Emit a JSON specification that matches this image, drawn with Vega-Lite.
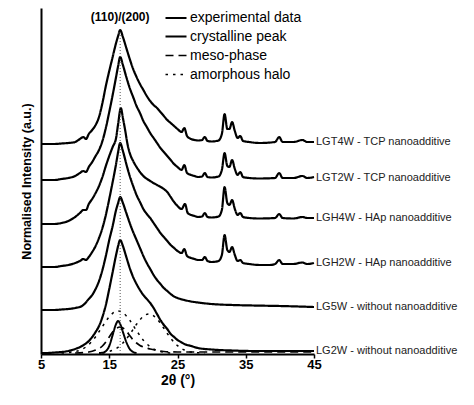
{
  "$schema": "https://vega.github.io/schema/vega-lite/v6.json",
  "width": 273,
  "height": 346,
  "autosize": {"type": "none"},
  "padding": {"left": 41, "top": 8, "right": 160, "bottom": 51},
  "background": "white",
  "config": {"view": {"stroke": null}, "font": "Liberation Sans", "axis": {"labelOverlap": false}, "axisX": {"labelOverlap": false}, "axisQuantitative": {"labelOverlap": false}},
  "datasets": {
    "labels": [
      {"label": "LGT4W - TCP nanoadditive", "y": 212},
      {"label": "LGT2W - TCP nanoadditive", "y": 176},
      {"label": "LGH4W - HAp nanoadditive", "y": 136},
      {"label": "LGH2W - HAp nanoadditive", "y": 91},
      {"label": "LG5W - without nanoadditive", "y": 47},
      {"label": "LG2W - without nanoadditive", "y": 3}
    ],
    "traces": [
      {"t":"LGT4W","x":5,"y":210},{"t":"LGT4W","x":7,"y":210},{"t":"LGT4W","x":8,"y":210.5},{"t":"LGT4W","x":9,"y":211},{"t":"LGT4W","x":10,"y":212},{"t":"LGT4W","x":10.7,"y":215},{"t":"LGT4W","x":11.2,"y":217},{"t":"LGT4W","x":11.6,"y":215},{"t":"LGT4W","x":12,"y":220},{"t":"LGT4W","x":12.5,"y":224},{"t":"LGT4W","x":13,"y":229},{"t":"LGT4W","x":13.5,"y":237},{"t":"LGT4W","x":14,"y":251},{"t":"LGT4W","x":14.5,"y":268},{"t":"LGT4W","x":15,"y":283},{"t":"LGT4W","x":15.5,"y":297},{"t":"LGT4W","x":16,"y":311},{"t":"LGT4W","x":16.3,"y":318},{"t":"LGT4W","x":16.6,"y":324},{"t":"LGT4W","x":17,"y":317},{"t":"LGT4W","x":17.5,"y":306},{"t":"LGT4W","x":18,"y":295},{"t":"LGT4W","x":18.5,"y":285},{"t":"LGT4W","x":19,"y":277},{"t":"LGT4W","x":19.5,"y":270},{"t":"LGT4W","x":20,"y":264},{"t":"LGT4W","x":20.5,"y":258},{"t":"LGT4W","x":21,"y":253},{"t":"LGT4W","x":21.5,"y":249},{"t":"LGT4W","x":22,"y":246},{"t":"LGT4W","x":22.5,"y":242},{"t":"LGT4W","x":23,"y":238},{"t":"LGT4W","x":23.5,"y":234},{"t":"LGT4W","x":24,"y":231},{"t":"LGT4W","x":24.5,"y":228},{"t":"LGT4W","x":25,"y":225},{"t":"LGT4W","x":25.6,"y":222},{"t":"LGT4W","x":26,"y":226},{"t":"LGT4W","x":26.4,"y":218},{"t":"LGT4W","x":27,"y":215},{"t":"LGT4W","x":27.5,"y":214},{"t":"LGT4W","x":28,"y":213.5},{"t":"LGT4W","x":28.6,"y":214},{"t":"LGT4W","x":29,"y":217},{"t":"LGT4W","x":29.4,"y":213},{"t":"LGT4W","x":30,"y":212.5},{"t":"LGT4W","x":31,"y":213.5},{"t":"LGT4W","x":31.5,"y":220},{"t":"LGT4W","x":31.9,"y":240},{"t":"LGT4W","x":32.3,"y":225},{"t":"LGT4W","x":32.6,"y":225},{"t":"LGT4W","x":33,"y":232},{"t":"LGT4W","x":33.4,"y":223},{"t":"LGT4W","x":33.8,"y":216},{"t":"LGT4W","x":34.2,"y":218},{"t":"LGT4W","x":34.6,"y":213},{"t":"LGT4W","x":35.5,"y":212},{"t":"LGT4W","x":37,"y":211},{"t":"LGT4W","x":39.3,"y":212},{"t":"LGT4W","x":39.9,"y":217},{"t":"LGT4W","x":40.4,"y":212},{"t":"LGT4W","x":42,"y":212},{"t":"LGT4W","x":43.3,"y":214},{"t":"LGT4W","x":44,"y":212},{"t":"LGT4W","x":45,"y":212},

      {"t":"LGT2W","x":5,"y":174},{"t":"LGT2W","x":7,"y":174},{"t":"LGT2W","x":8,"y":175},{"t":"LGT2W","x":9,"y":176},{"t":"LGT2W","x":10,"y":178},{"t":"LGT2W","x":10.7,"y":181},{"t":"LGT2W","x":11.2,"y":183},{"t":"LGT2W","x":11.6,"y":182},{"t":"LGT2W","x":12,"y":187},{"t":"LGT2W","x":12.5,"y":192},{"t":"LGT2W","x":13,"y":198},{"t":"LGT2W","x":13.5,"y":204},{"t":"LGT2W","x":14,"y":213},{"t":"LGT2W","x":14.5,"y":226},{"t":"LGT2W","x":15,"y":242},{"t":"LGT2W","x":15.5,"y":259},{"t":"LGT2W","x":16,"y":277},{"t":"LGT2W","x":16.3,"y":288},{"t":"LGT2W","x":16.6,"y":297},{"t":"LGT2W","x":17,"y":289},{"t":"LGT2W","x":17.5,"y":277},{"t":"LGT2W","x":18,"y":266},{"t":"LGT2W","x":18.5,"y":257},{"t":"LGT2W","x":19,"y":248},{"t":"LGT2W","x":19.5,"y":241},{"t":"LGT2W","x":20,"y":233},{"t":"LGT2W","x":20.5,"y":227},{"t":"LGT2W","x":21,"y":221},{"t":"LGT2W","x":21.5,"y":216},{"t":"LGT2W","x":22,"y":211},{"t":"LGT2W","x":22.5,"y":206},{"t":"LGT2W","x":23,"y":202},{"t":"LGT2W","x":23.5,"y":198},{"t":"LGT2W","x":24,"y":194},{"t":"LGT2W","x":24.5,"y":190},{"t":"LGT2W","x":25,"y":187},{"t":"LGT2W","x":25.6,"y":184},{"t":"LGT2W","x":26,"y":189},{"t":"LGT2W","x":26.4,"y":181},{"t":"LGT2W","x":27,"y":179},{"t":"LGT2W","x":27.5,"y":178},{"t":"LGT2W","x":28,"y":177},{"t":"LGT2W","x":28.6,"y":177.5},{"t":"LGT2W","x":29,"y":181},{"t":"LGT2W","x":29.4,"y":177},{"t":"LGT2W","x":30,"y":176.5},{"t":"LGT2W","x":31,"y":177.5},{"t":"LGT2W","x":31.5,"y":184},{"t":"LGT2W","x":31.9,"y":201},{"t":"LGT2W","x":32.3,"y":188},{"t":"LGT2W","x":32.6,"y":187},{"t":"LGT2W","x":33,"y":194},{"t":"LGT2W","x":33.4,"y":185},{"t":"LGT2W","x":33.8,"y":179},{"t":"LGT2W","x":34.2,"y":182},{"t":"LGT2W","x":34.6,"y":177},{"t":"LGT2W","x":35.5,"y":176},{"t":"LGT2W","x":37,"y":175.5},{"t":"LGT2W","x":39.3,"y":176},{"t":"LGT2W","x":39.9,"y":181},{"t":"LGT2W","x":40.4,"y":176},{"t":"LGT2W","x":42,"y":176},{"t":"LGT2W","x":43.3,"y":178},{"t":"LGT2W","x":44,"y":176},{"t":"LGT2W","x":45,"y":177},

      {"t":"LGH4W","x":5,"y":130},{"t":"LGH4W","x":7,"y":130},{"t":"LGH4W","x":8,"y":131},{"t":"LGH4W","x":9,"y":133},{"t":"LGH4W","x":10,"y":137},{"t":"LGH4W","x":10.7,"y":141},{"t":"LGH4W","x":11.2,"y":144},{"t":"LGH4W","x":11.6,"y":144},{"t":"LGH4W","x":12,"y":150},{"t":"LGH4W","x":12.5,"y":155},{"t":"LGH4W","x":13,"y":161},{"t":"LGH4W","x":13.5,"y":168},{"t":"LGH4W","x":14,"y":177},{"t":"LGH4W","x":14.5,"y":188},{"t":"LGH4W","x":15,"y":198},{"t":"LGH4W","x":15.5,"y":207},{"t":"LGH4W","x":16,"y":216},{"t":"LGH4W","x":16.3,"y":230},{"t":"LGH4W","x":16.7,"y":246},{"t":"LGH4W","x":17,"y":236},{"t":"LGH4W","x":17.3,"y":225},{"t":"LGH4W","x":17.7,"y":209},{"t":"LGH4W","x":18,"y":201},{"t":"LGH4W","x":18.5,"y":193},{"t":"LGH4W","x":19,"y":187},{"t":"LGH4W","x":19.5,"y":182},{"t":"LGH4W","x":20,"y":178},{"t":"LGH4W","x":21,"y":173},{"t":"LGH4W","x":22,"y":169},{"t":"LGH4W","x":23,"y":165},{"t":"LGH4W","x":23.5,"y":162},{"t":"LGH4W","x":24,"y":157},{"t":"LGH4W","x":24.5,"y":152},{"t":"LGH4W","x":25,"y":148},{"t":"LGH4W","x":25.6,"y":145},{"t":"LGH4W","x":26.1,"y":150},{"t":"LGH4W","x":26.5,"y":141},{"t":"LGH4W","x":27,"y":139},{"t":"LGH4W","x":27.5,"y":138},{"t":"LGH4W","x":28,"y":137},{"t":"LGH4W","x":28.6,"y":137.5},{"t":"LGH4W","x":29,"y":141},{"t":"LGH4W","x":29.4,"y":137},{"t":"LGH4W","x":30,"y":136.5},{"t":"LGH4W","x":31,"y":137.5},{"t":"LGH4W","x":31.5,"y":144},{"t":"LGH4W","x":31.9,"y":167},{"t":"LGH4W","x":32.3,"y":151},{"t":"LGH4W","x":32.6,"y":149},{"t":"LGH4W","x":33,"y":154},{"t":"LGH4W","x":33.4,"y":145},{"t":"LGH4W","x":33.8,"y":139},{"t":"LGH4W","x":34.2,"y":141},{"t":"LGH4W","x":34.6,"y":137},{"t":"LGH4W","x":35.5,"y":136},{"t":"LGH4W","x":37,"y":135.5},{"t":"LGH4W","x":39.3,"y":136},{"t":"LGH4W","x":39.9,"y":140},{"t":"LGH4W","x":40.4,"y":136},{"t":"LGH4W","x":42,"y":135.5},{"t":"LGH4W","x":43.3,"y":137},{"t":"LGH4W","x":44,"y":136},{"t":"LGH4W","x":45,"y":136},

      {"t":"LGH2W","x":5,"y":87},{"t":"LGH2W","x":7,"y":87},{"t":"LGH2W","x":8,"y":88},{"t":"LGH2W","x":9,"y":89},{"t":"LGH2W","x":10,"y":91},{"t":"LGH2W","x":10.7,"y":93},{"t":"LGH2W","x":11.2,"y":95},{"t":"LGH2W","x":11.6,"y":94},{"t":"LGH2W","x":12,"y":97},{"t":"LGH2W","x":12.5,"y":102},{"t":"LGH2W","x":13,"y":108},{"t":"LGH2W","x":13.5,"y":116},{"t":"LGH2W","x":14,"y":126},{"t":"LGH2W","x":14.5,"y":139},{"t":"LGH2W","x":15,"y":155},{"t":"LGH2W","x":15.5,"y":172},{"t":"LGH2W","x":16,"y":190},{"t":"LGH2W","x":16.3,"y":202},{"t":"LGH2W","x":16.6,"y":211},{"t":"LGH2W","x":17,"y":203},{"t":"LGH2W","x":17.5,"y":190},{"t":"LGH2W","x":18,"y":178},{"t":"LGH2W","x":18.5,"y":168},{"t":"LGH2W","x":19,"y":159},{"t":"LGH2W","x":19.5,"y":152},{"t":"LGH2W","x":20,"y":145},{"t":"LGH2W","x":20.5,"y":140},{"t":"LGH2W","x":21,"y":136},{"t":"LGH2W","x":21.5,"y":131},{"t":"LGH2W","x":22,"y":126},{"t":"LGH2W","x":22.5,"y":121},{"t":"LGH2W","x":23,"y":117},{"t":"LGH2W","x":23.5,"y":113},{"t":"LGH2W","x":24,"y":109},{"t":"LGH2W","x":24.5,"y":106},{"t":"LGH2W","x":25,"y":103},{"t":"LGH2W","x":25.6,"y":101},{"t":"LGH2W","x":26,"y":105},{"t":"LGH2W","x":26.4,"y":98},{"t":"LGH2W","x":27,"y":96},{"t":"LGH2W","x":27.5,"y":95},{"t":"LGH2W","x":28,"y":94},{"t":"LGH2W","x":28.6,"y":94},{"t":"LGH2W","x":29,"y":97},{"t":"LGH2W","x":29.4,"y":93},{"t":"LGH2W","x":30,"y":92},{"t":"LGH2W","x":31,"y":93},{"t":"LGH2W","x":31.5,"y":99},{"t":"LGH2W","x":31.9,"y":119},{"t":"LGH2W","x":32.3,"y":104},{"t":"LGH2W","x":32.6,"y":102},{"t":"LGH2W","x":33,"y":107},{"t":"LGH2W","x":33.4,"y":99},{"t":"LGH2W","x":33.8,"y":93},{"t":"LGH2W","x":34.2,"y":94},{"t":"LGH2W","x":34.6,"y":91},{"t":"LGH2W","x":35.5,"y":90},{"t":"LGH2W","x":37,"y":89},{"t":"LGH2W","x":38.5,"y":89},{"t":"LGH2W","x":39.3,"y":90},{"t":"LGH2W","x":39.9,"y":94},{"t":"LGH2W","x":40.4,"y":90},{"t":"LGH2W","x":42,"y":90},{"t":"LGH2W","x":43.3,"y":91.5},{"t":"LGH2W","x":44,"y":90},{"t":"LGH2W","x":45,"y":91},

      {"t":"LG5W","x":5,"y":44},{"t":"LG5W","x":7,"y":44},{"t":"LG5W","x":8,"y":44.5},{"t":"LG5W","x":9,"y":45},{"t":"LG5W","x":10,"y":46},{"t":"LG5W","x":11,"y":48},{"t":"LG5W","x":12,"y":55},{"t":"LG5W","x":12.5,"y":59},{"t":"LG5W","x":13,"y":65},{"t":"LG5W","x":13.5,"y":73},{"t":"LG5W","x":14,"y":84},{"t":"LG5W","x":14.5,"y":98},{"t":"LG5W","x":15,"y":114},{"t":"LG5W","x":15.5,"y":128},{"t":"LG5W","x":16,"y":144},{"t":"LG5W","x":16.3,"y":151},{"t":"LG5W","x":16.6,"y":157},{"t":"LG5W","x":17,"y":151},{"t":"LG5W","x":17.5,"y":141},{"t":"LG5W","x":18,"y":131},{"t":"LG5W","x":18.5,"y":122},{"t":"LG5W","x":19,"y":114},{"t":"LG5W","x":19.5,"y":106},{"t":"LG5W","x":20,"y":98},{"t":"LG5W","x":20.5,"y":91},{"t":"LG5W","x":21,"y":85},{"t":"LG5W","x":21.5,"y":79},{"t":"LG5W","x":22,"y":74},{"t":"LG5W","x":22.5,"y":70},{"t":"LG5W","x":23,"y":66},{"t":"LG5W","x":23.5,"y":63},{"t":"LG5W","x":24,"y":60},{"t":"LG5W","x":24.5,"y":57.5},{"t":"LG5W","x":25,"y":56},{"t":"LG5W","x":26,"y":54},{"t":"LG5W","x":27,"y":52.5},{"t":"LG5W","x":28,"y":51.5},{"t":"LG5W","x":30,"y":50},{"t":"LG5W","x":33,"y":49},{"t":"LG5W","x":36,"y":48.5},{"t":"LG5W","x":40,"y":48},{"t":"LG5W","x":45,"y":47},

      {"t":"LG2W","x":5,"y":1},{"t":"LG2W","x":6,"y":1},{"t":"LG2W","x":7,"y":1.5},{"t":"LG2W","x":8,"y":2},{"t":"LG2W","x":9,"y":3},{"t":"LG2W","x":10,"y":5},{"t":"LG2W","x":11,"y":8},{"t":"LG2W","x":12,"y":13},{"t":"LG2W","x":12.5,"y":17},{"t":"LG2W","x":13,"y":22},{"t":"LG2W","x":13.5,"y":28},{"t":"LG2W","x":14,"y":37},{"t":"LG2W","x":14.5,"y":49},{"t":"LG2W","x":15,"y":65},{"t":"LG2W","x":15.5,"y":82},{"t":"LG2W","x":16,"y":99},{"t":"LG2W","x":16.3,"y":108},{"t":"LG2W","x":16.6,"y":114},{"t":"LG2W","x":17,"y":108},{"t":"LG2W","x":17.5,"y":97},{"t":"LG2W","x":18,"y":86},{"t":"LG2W","x":18.5,"y":77},{"t":"LG2W","x":19,"y":70},{"t":"LG2W","x":19.5,"y":64},{"t":"LG2W","x":20,"y":59},{"t":"LG2W","x":20.5,"y":55},{"t":"LG2W","x":21,"y":51},{"t":"LG2W","x":21.5,"y":46},{"t":"LG2W","x":22,"y":40},{"t":"LG2W","x":22.5,"y":34},{"t":"LG2W","x":23,"y":29},{"t":"LG2W","x":23.5,"y":25},{"t":"LG2W","x":24,"y":20},{"t":"LG2W","x":24.5,"y":17},{"t":"LG2W","x":25,"y":14},{"t":"LG2W","x":25.5,"y":12},{"t":"LG2W","x":26,"y":10},{"t":"LG2W","x":27,"y":8},{"t":"LG2W","x":28,"y":6},{"t":"LG2W","x":30,"y":4.5},{"t":"LG2W","x":33,"y":3.5},{"t":"LG2W","x":36,"y":3},{"t":"LG2W","x":40,"y":3},{"t":"LG2W","x":45,"y":3},

      {"t":"cp","x":13.5,"y":1},{"t":"cp","x":14,"y":1.3},{"t":"cp","x":14.5,"y":2.8},{"t":"cp","x":15,"y":8},{"t":"cp","x":15.5,"y":19},{"t":"cp","x":16,"y":30},{"t":"cp","x":16.3,"y":33},{"t":"cp","x":16.6,"y":30},{"t":"cp","x":17,"y":22},{"t":"cp","x":17.5,"y":12},{"t":"cp","x":18,"y":5},{"t":"cp","x":18.5,"y":2},{"t":"cp","x":19,"y":1},

      {"t":"mp","x":10,"y":1},{"t":"mp","x":12,"y":2},{"t":"mp","x":13,"y":4},{"t":"mp","x":14,"y":8},{"t":"mp","x":14.5,"y":12},{"t":"mp","x":15,"y":17},{"t":"mp","x":15.5,"y":22},{"t":"mp","x":16,"y":25.5},{"t":"mp","x":16.6,"y":27},{"t":"mp","x":17,"y":26},{"t":"mp","x":17.5,"y":23},{"t":"mp","x":18,"y":18.5},{"t":"mp","x":18.5,"y":14},{"t":"mp","x":19,"y":11},{"t":"mp","x":19.5,"y":8.5},{"t":"mp","x":20,"y":7},{"t":"mp","x":20.5,"y":6},{"t":"mp","x":21,"y":5},{"t":"mp","x":22,"y":3.5},{"t":"mp","x":23,"y":2.5},{"t":"mp","x":25,"y":2},{"t":"mp","x":30,"y":2},{"t":"mp","x":45,"y":2},

      {"t":"ah1","x":8,"y":1},{"t":"ah1","x":9,"y":1.4},{"t":"ah1","x":10,"y":2.3},{"t":"ah1","x":11,"y":4.7},{"t":"ah1","x":12,"y":9.4},{"t":"ah1","x":13,"y":17.3},{"t":"ah1","x":14,"y":27.5},{"t":"ah1","x":15,"y":37.3},{"t":"ah1","x":16,"y":42.7},{"t":"ah1","x":16.3,"y":43},{"t":"ah1","x":17,"y":41.3},{"t":"ah1","x":18,"y":33.7},{"t":"ah1","x":19,"y":23.3},{"t":"ah1","x":20,"y":13.8},{"t":"ah1","x":21,"y":7.2},{"t":"ah1","x":22,"y":3.5},{"t":"ah1","x":23,"y":1.8},{"t":"ah1","x":24,"y":1},

      {"t":"ah2","x":14,"y":1},{"t":"ah2","x":15,"y":2.6},{"t":"ah2","x":16,"y":5.4},{"t":"ah2","x":17,"y":11},{"t":"ah2","x":18,"y":19.6},{"t":"ah2","x":19,"y":29.7},{"t":"ah2","x":20,"y":37.7},{"t":"ah2","x":20.8,"y":40},{"t":"ah2","x":21,"y":39.9},{"t":"ah2","x":22,"y":35},{"t":"ah2","x":23,"y":25.7},{"t":"ah2","x":24,"y":15.8},{"t":"ah2","x":25,"y":8.4},{"t":"ah2","x":26,"y":4},{"t":"ah2","x":27,"y":2},{"t":"ah2","x":28,"y":1.3},{"t":"ah2","x":29,"y":1}
    ]
  },
  "layer": [
    {
      "data": {"name": "traces"},
      "transform": [
        {
          "lookup": "t",
          "from": {
            "data": {"values": [
              {"t": "LGT4W", "c": "experimental data"},
              {"t": "LGT2W", "c": "experimental data"},
              {"t": "LGH4W", "c": "experimental data"},
              {"t": "LGH2W", "c": "experimental data"},
              {"t": "LG5W", "c": "experimental data"},
              {"t": "LG2W", "c": "experimental data"},
              {"t": "cp", "c": "crystalline peak"},
              {"t": "mp", "c": "meso-phase"},
              {"t": "ah1", "c": "amorphous halo"},
              {"t": "ah2", "c": "amorphous halo"}
            ]},
            "key": "t",
            "fields": ["c"]
          }
        }
      ],
      "mark": {"type": "line", "color": "black", "interpolate": "monotone", "strokeJoin": "round"},
      "encoding": {
        "x": {
          "field": "x", "type": "quantitative",
          "scale": {"domain": [5, 45], "nice": false, "zero": false},
          "axis": {
            "title": "2θ (°)",
            "values": [5, 7.5, 10, 12.5, 15, 17.5, 20, 22.5, 25, 27.5, 30, 32.5, 35, 37.5, 40, 42.5, 45],
            "labelExpr": "(datum.value % 5 === 0) ? format(datum.value, 'd') : ''",
            "grid": false,
            "domainColor": "black", "domainWidth": 2,
            "tickColor": "black", "tickWidth": 1.5, "tickSize": 4,
            "labelFont": "Liberation Sans", "labelFontSize": 13, "labelFontWeight": "bold", "labelColor": "black",
            "labelPadding": 0, "labelFlush": false, "labelOverlap": false, "labelBound": false,
            "titleFont": "Liberation Sans", "titleFontSize": 14, "titleFontWeight": "bold", "titleColor": "black",
            "titlePadding": 2
          }
        },
        "y": {
          "field": "y", "type": "quantitative",
          "scale": {"domain": [0, 346], "nice": false},
          "axis": {
            "title": "Normalised Intensity (a.u.)",
            "ticks": false, "labels": false, "grid": false,
            "domainColor": "black", "domainWidth": 2,
            "titleFont": "Liberation Sans", "titleFontSize": 12.5, "titleFontWeight": "bold", "titleColor": "black",
            "titlePadding": 8
          }
        },
        "detail": {"field": "t"},
        "strokeDash": {
          "field": "c", "type": "nominal",
          "scale": {
            "domain": ["experimental data", "crystalline peak", "meso-phase", "amorphous halo"],
            "range": [[1, 0], [1, 0], [8, 5], [2.5, 5]]
          },
          "legend": {
            "orient": "none", "legendX": 123, "legendY": -2, "title": null, "padding": 0,
            "symbolType": "stroke", "symbolStrokeColor": "black", "symbolSize": 441,
            "labelFont": "Liberation Sans", "labelFontSize": 14, "labelColor": "black",
            "labelOffset": 2, "rowPadding": -2.5
          }
        },
        "strokeWidth": {
          "field": "c", "type": "nominal",
          "scale": {
            "domain": ["experimental data", "crystalline peak", "meso-phase", "amorphous halo"],
            "range": [2.2, 1.5, 1.6, 1.6]
          },
          "legend": {
            "orient": "none", "legendX": 123, "legendY": -2, "title": null, "padding": 0,
            "symbolType": "stroke", "symbolStrokeColor": "black", "symbolSize": 441,
            "labelFont": "Liberation Sans", "labelFontSize": 14, "labelColor": "black",
            "labelOffset": 2, "rowPadding": -2.5
          }
        }
      }
    },
    {
      "data": {"values": [{}]},
      "mark": {"type": "rule", "color": "#555555", "strokeWidth": 1, "strokeDash": [1, 2]},
      "encoding": {
        "x": {"datum": 16.6, "type": "quantitative", "axis": {"labelOverlap": false, "labelBound": false}},
        "y": {"datum": 0, "type": "quantitative"},
        "y2": {"datum": 324}
      }
    },
    {
      "data": {"name": "labels"},
      "mark": {"type": "text", "align": "left", "baseline": "middle", "dx": 2, "font": "Liberation Sans", "fontSize": 11, "color": "#222222"},
      "encoding": {
        "x": {"datum": 45, "type": "quantitative", "axis": {"labelOverlap": false, "labelBound": false}},
        "y": {"field": "y", "type": "quantitative"},
        "text": {"field": "label"}
      }
    },
    {
      "data": {"values": [{}]},
      "mark": {"type": "text", "align": "center", "baseline": "middle", "font": "Liberation Sans", "fontSize": 12, "fontWeight": "bold", "color": "black"},
      "encoding": {
        "x": {"datum": 16.6, "type": "quantitative", "axis": {"labelOverlap": false, "labelBound": false}},
        "y": {"datum": 337, "type": "quantitative"},
        "text": {"value": "(110)/(200)"}
      }
    }
  ]
}
